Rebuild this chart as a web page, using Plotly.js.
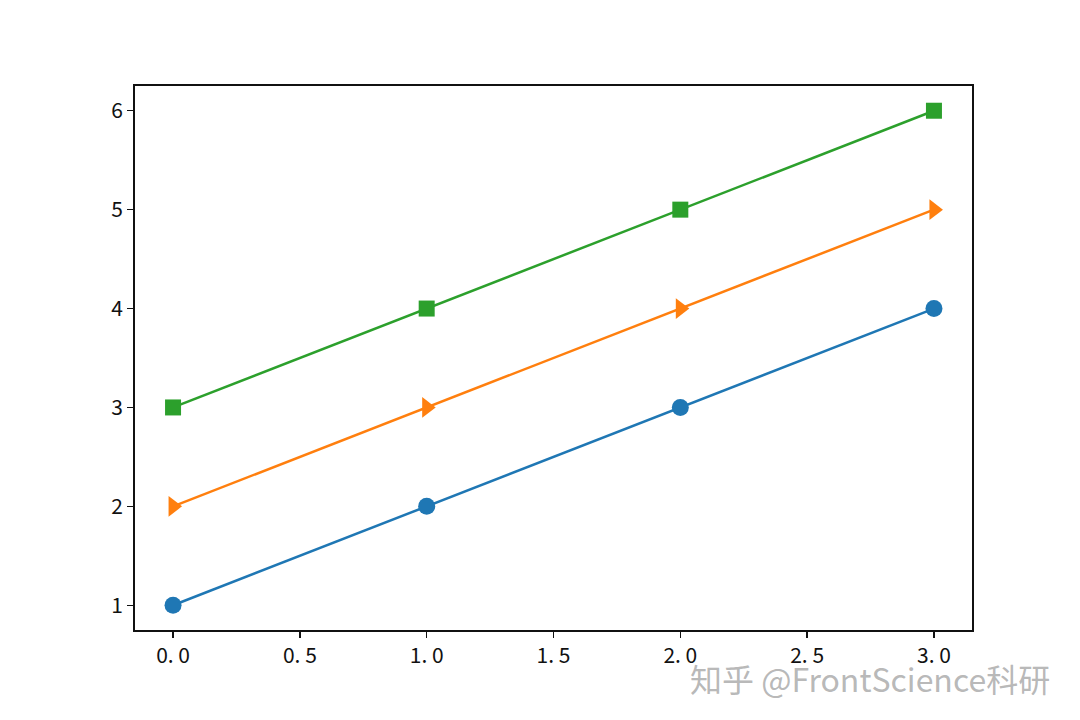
<!DOCTYPE html>
<html>
<head>
<meta charset="utf-8">
<script src="https://cdn.plot.ly/plotly-3.0.1.min.js"></script>
<style>html,body{margin:0;padding:0;background:#fff;}#chart{width:1080px;height:720px;}</style>
</head>
<body>
<div id="chart"></div>
<script>
const xValues = [0, 1, 2, 3];
const seriesA = [1, 2, 3, 4];
const seriesB = [2, 3, 4, 5];
const seriesC = [3, 4, 5, 6];
const xTickVals = [0, 0.5, 1, 1.5, 2, 2.5, 3];
const xTickText = ['0. 0', '0. 5', '1. 0', '1. 5', '2. 0', '2. 5', '3. 0'];
const yTickVals = [1, 2, 3, 4, 5, 6];
const watermark = '知乎 @FrontScience科研';

const traces = [
  {x: xValues, y: seriesA, mode: 'lines+markers', line: {color: '#1f77b4', width: 2.5},
   marker: {symbol: 'circle', size: 17, color: '#1f77b4'}},
  {x: xValues, y: seriesB, mode: 'lines+markers', line: {color: '#ff7f0e', width: 2.5},
   marker: {symbol: 'triangle-right', size: 18, color: '#ff7f0e'}},
  {x: xValues, y: seriesC, mode: 'lines+markers', line: {color: '#2ca02c', width: 2.5},
   marker: {symbol: 'square', size: 16, color: '#2ca02c'}}
];

const tickFont = {family: '"Noto Sans CJK SC", "DejaVu Sans", sans-serif', size: 21, color: '#111'};

const layout = {
  width: 1080, height: 720,
  margin: {l: 135, r: 108, t: 86, b: 90},
  paper_bgcolor: '#fff', plot_bgcolor: '#fff',
  showlegend: false,
  xaxis: {range: [-0.15, 3.15], tickvals: xTickVals, ticktext: xTickText, ticks: 'outside',
    ticklen: 6, tickwidth: 1.5, tickcolor: '#111', showgrid: false, zeroline: false,
    showline: true, linecolor: '#111', linewidth: 2, mirror: true, tickfont: tickFont},
  yaxis: {range: [0.75, 6.25], tickvals: yTickVals, ticks: 'outside',
    ticklen: 6, tickwidth: 1.5, tickcolor: '#111', showgrid: false, zeroline: false,
    showline: true, linecolor: '#111', linewidth: 2, mirror: true, tickfont: tickFont},
  annotations: [{text: watermark, xref: 'paper', yref: 'paper', x: 1.095, y: -0.088,
    xanchor: 'right', yanchor: 'middle', showarrow: false,
    font: {family: '"Noto Sans CJK SC", sans-serif', size: 32, color: 'rgba(175,175,175,0.9)'}}]
};

Plotly.newPlot('chart', traces, layout, {displayModeBar: false, staticPlot: true});
</script>
</body>
</html>
